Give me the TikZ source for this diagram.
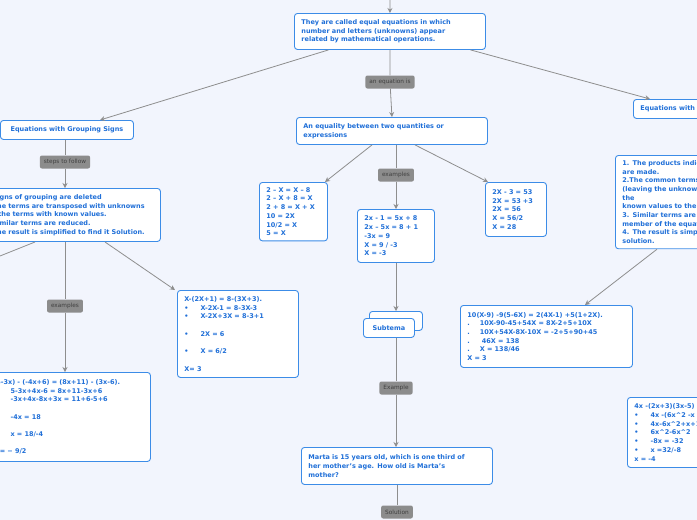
\documentclass[tikz,border=0pt]{standalone}
\usepackage{fontspec}
\setmainfont{DejaVu Sans}
\usetikzlibrary{calc,arrows.meta}
\definecolor{bg}{HTML}{F2F5FD}
\definecolor{bb}{HTML}{3C8CE7}
\definecolor{bt}{HTML}{1F6FD8}
\definecolor{lg}{HTML}{8C8C8C}
\definecolor{ln}{HTML}{8E8E8E}
\tikzset{
  box/.style={draw=bb,line width=0.9pt,fill=white,rounded corners=3pt,anchor=north west,align=left,
    inner xsep=7pt,inner ysep=5pt,font=\fontsize{6.5}{8.7}\selectfont\bfseries,text=bt},
  lbl/.style={fill=lg,rounded corners=2pt,text=black!75,font=\fontsize{5.8}{6}\selectfont,inner xsep=4pt,inner ysep=0pt,minimum height=13pt},
  con/.style={draw=ln,line width=0.8pt},
  arr/.style={con,-{Stealth[length=5pt,width=5pt]}}
}
\begin{document}
\begin{tikzpicture}[x=1pt,y=-1pt]
\fill[bg] (0,0) rectangle (697,520);
\useasboundingbox (0,0) rectangle (697,520);
\clip (0,0) rectangle (697,520);
% top
\node[box,minimum width=191pt,minimum height=36pt,text width=177pt] (top) at (294,13) {They are called equal equations in which\\number and letters (unknowns) appear\\related by mathematical operations.};
\coordinate (up) at (390,-2);
\draw[arr] (up) -- (top.north);
\node[lbl] (l1) at (390,82) {an equation is};
\node[box,minimum width=191pt,minimum height=27pt,text width=177pt] (eq) at (296,117) {An equality between two quantities or\\expressions};
\draw[con] (top.south) -- (l1); \draw[arr] (l1) -- (eq.north);
\node[box,minimum width=133pt,minimum height=19pt,text width=119pt,align=center,inner ysep=3pt] (grp) at (0,120) {Equations with Grouping Signs};
\node[box,minimum width=80pt,minimum height=19pt,text width=120pt,inner ysep=3pt] (eqr) at (633,99) {Equations with Grouping Signs};
\draw[arr] ($(top.south west)!0.18!(top.south east)$) -- (grp.north -| 100,0);
\draw[arr] ($(top.south west)!0.92!(top.south east)$) -- (eqr.north -| 650,0);
% left branch
\node[lbl] (l2) at (65,162) {steps to follow};
\node[box,minimum width=185pt,minimum height=53pt,text width=171pt] (st) at (-25,188) {1. Signs of grouping are deleted\\2. The terms are transposed with unknowns\\and the terms with known values.\\3. Similar terms are reduced.\\4. The result is simplified to find it Solution.};
\draw[con] (grp.south -| 65,0) -- (l2); \draw[arr] (l2) -- (st.north -| 65,0);
\coordinate (off) at (-5,258);
\draw[con] (35,242) -- (off);
\node[lbl] (l3) at (65,306) {examples};
\node[box,minimum width=160pt,minimum height=89pt,text width=150pt] (ex1) at (-14,372) {(5-3x) - (-4x+6) = (8x+11) - (3x-6).\\[0pt]
\hspace*{1pt}•\hspace{12pt}5-3x+4x-6 = 8x+11-3x+6\\
\hspace*{1pt}•\hspace{12pt}-3x+4x-8x+3x = 11+6-5+6\\[8.7pt]
\hspace*{1pt}•\hspace{12pt}-4x = 18\\[8.7pt]
\hspace*{1pt}•\hspace{12pt}x = 18/-4\\[8.7pt]
x = − 9/2};
\draw[con] (st.south -| 65,0) -- (l3); \draw[arr] (l3) -- (ex1.north -| 65,0);
\node[box,minimum width=121pt,minimum height=87pt,text width=107pt] (ex2) at (177,290) {X-(2X+1) = 8-(3X+3).\\
•\hspace{12pt}X-2X-1 = 8-3X-3\\
•\hspace{12pt}X-2X+3X = 8-3+1\\[8.7pt]
•\hspace{12pt}2X = 6\\[8.7pt]
•\hspace{12pt}X = 6/2\\[8.7pt]
X= 3};
\draw[arr] (105,242) -- (ex2.north -| 175,0);
% middle
\node[lbl] (l4) at (396,175) {examples};
\node[box,minimum width=68pt,minimum height=55pt,text width=54pt] (m1) at (259,182) {2 – X = X – 8\\2 – X + 8 = X\\2 + 8 = X + X\\10 = 2X\\10/2 = X\\5 = X};
\node[box,minimum width=77pt,minimum height=53pt,text width=63pt] (m2) at (357,209) {2x - 1 = 5x + 8\\2x – 5x = 8 + 1\\-3x = 9\\X = 9 / -3\\X = -3};
\node[box,minimum width=61pt,minimum height=54pt,text width=47pt] (m3) at (485,182) {2X - 3 = 53\\2X = 53 +3\\2X = 56\\X = 56/2\\X = 28};
\draw[con] (eq.south -| 396,0) -- (l4); \draw[arr] (l4) -- (m2.north -| 396,0);
\draw[arr] (eq.south -| 372,0) -- (m1.north east -| 325,0);
\draw[arr] (eq.south -| 415,0) -- (m3.north west -| 488,0);
\node[box,minimum width=53pt,minimum height=19pt,inner ysep=2pt] (sb) at (369,311) {};
\node[box,minimum width=51pt,minimum height=19pt,text width=37pt,align=center,inner ysep=2pt] (sub) at (363,318) {Subtema};
\draw[arr] (m2.south -| 396,0) -- (sb.north -| 396,0);
\node[lbl] (l5) at (396,388) {Example};
\node[box,minimum width=191pt,minimum height=37pt,text width=177pt] (mar) at (301,447) {Marta is 15 years old, which is one third of\\her mother's age. How old is Marta's\\mother?};
\draw[con] (sub.south -| 396,0) -- (l5); \draw[arr] (l5) -- (mar.north -| 396,0);
\node[lbl] (l6) at (397,512) {Solution};
\draw[con] (mar.south -| 397,0) -- (l6);
% right
\node[box,minimum width=170pt,minimum height=87pt,text width=156pt] (rs) at (615,155) {1. The products indicated\\are made.\\2.The common terms are transposed\\(leaving the unknowns on one side and the\\known values to the other)\\3. Similar terms are reduced in each\\member of the equation.\\4. The result is simplified to find the\\solution.};
\node[lbl,minimum width=14pt] (r1) at (704,135) {};
\node[lbl,minimum width=14pt] (r2) at (704,320) {};
\draw[con] (eqr.south -| 704,0) -- (r1);
\node[box,minimum width=172pt,minimum height=62pt,text width=158pt] (rx) at (460,305) {10(X-9) -9(5-6X) = 2(4X-1) +5(1+2X).\\
.\hspace{10pt}10X-90-45+54X = 8X-2+5+10X\\
.\hspace{10pt}10X+54X-8X-10X = -2+5+90+45\\
.\hspace{12pt}46X = 138\\
.\hspace{10pt}X = 138/46\\
X = 3};
\draw[arr] (rs.south -| 657,0) -- (rx.north -| 585,0);
\node[box,minimum width=120pt,minimum height=70pt,text width=106pt] (r4) at (627,397) {4x -(2x+3)(3x-5) = 3x\\
•\hspace{12pt}4x -(6x\^{}2 -x -15)\\
•\hspace{12pt}4x-6x\^{}2+x+15\\
•\hspace{12pt}6x\^{}2-6x\^{}2\\
•\hspace{12pt}-8x = -32\\
•\hspace{12pt}x =32/-8\\
x = -4};
\end{tikzpicture}
\end{document}
